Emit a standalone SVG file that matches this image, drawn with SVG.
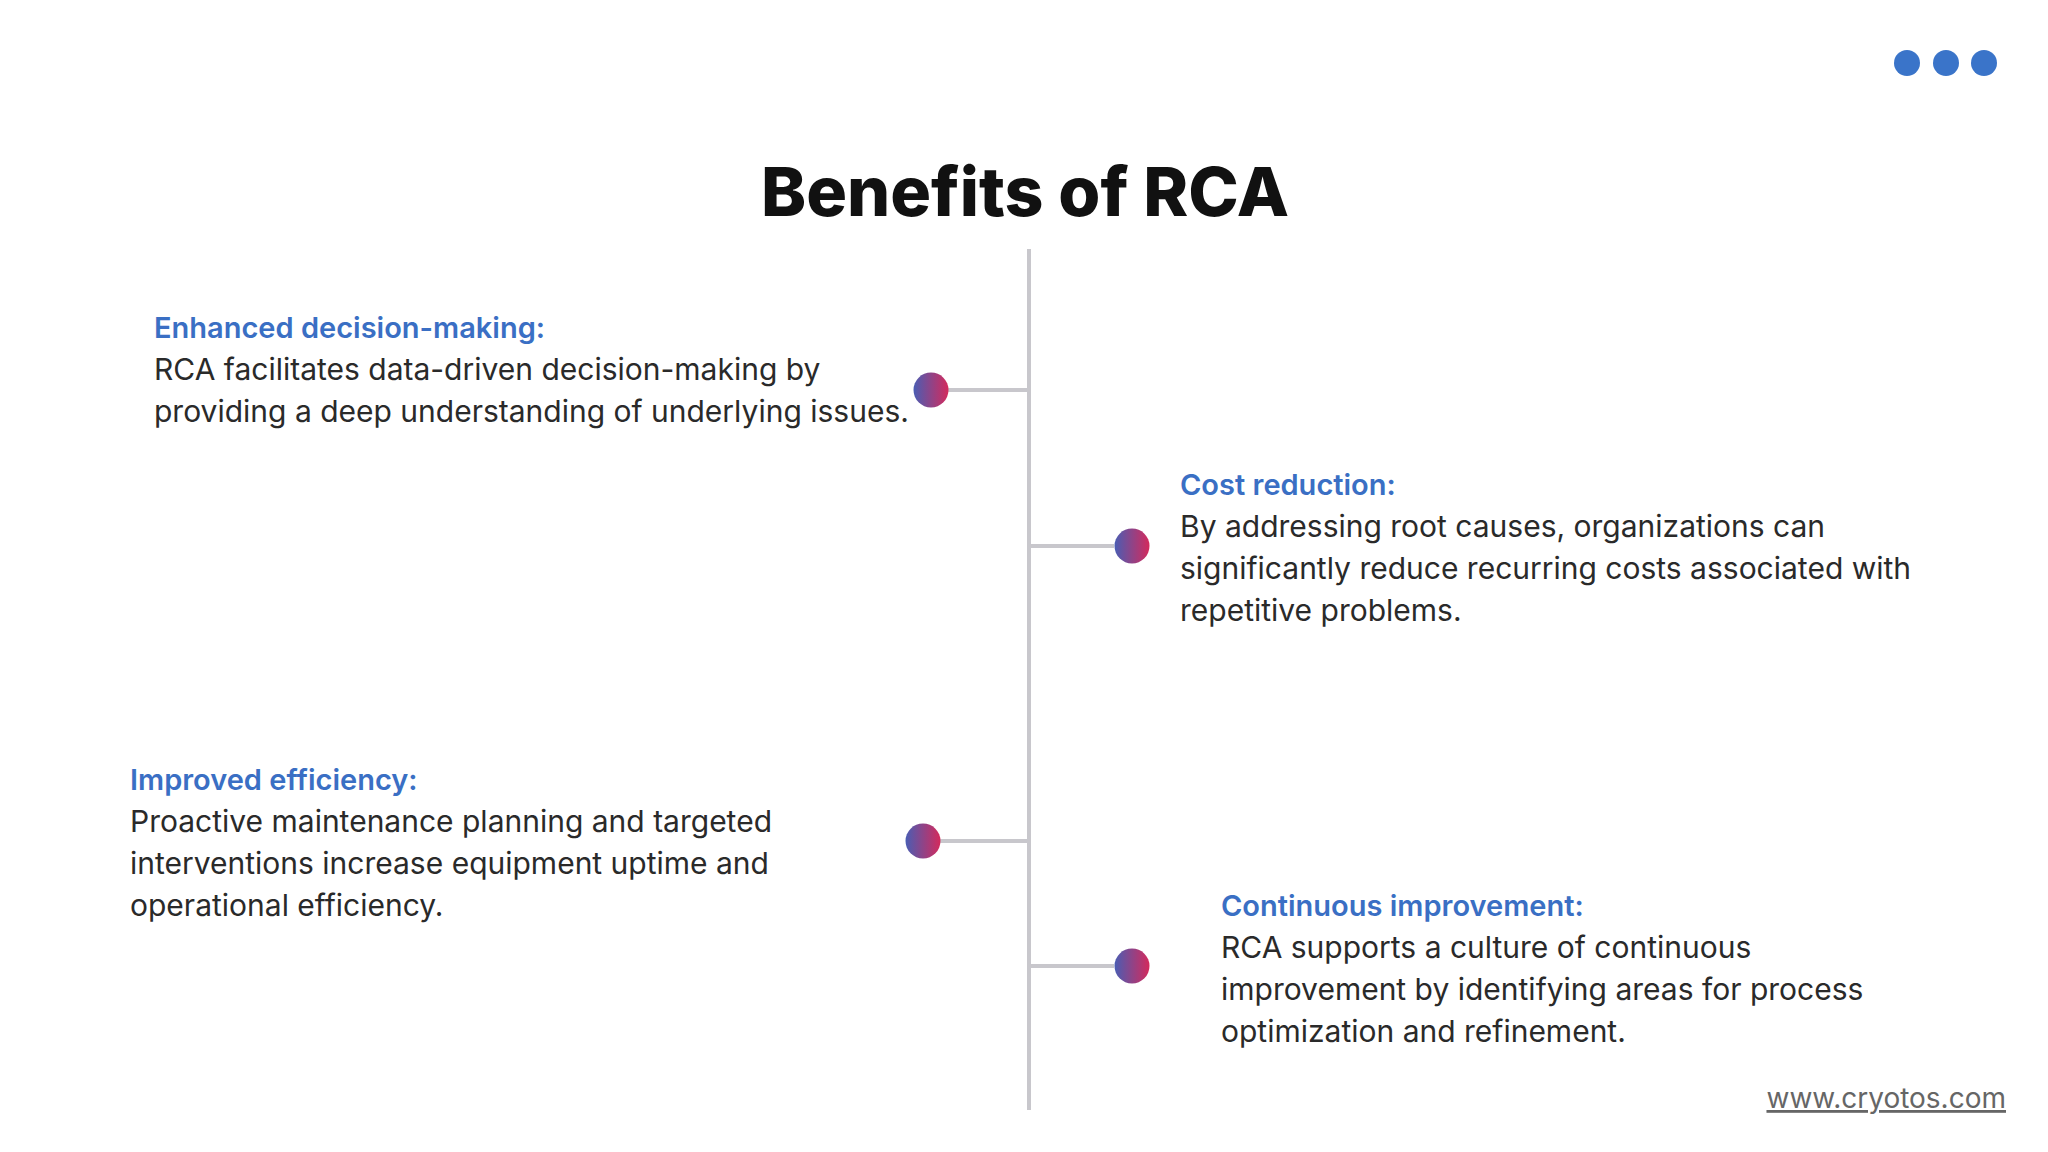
<svg xmlns="http://www.w3.org/2000/svg" width="2048" height="1152" viewBox="0 0 2048 1152">
<style>
.h{font-family:Inter,"Noto Sans",sans-serif;font-weight:600;font-size:29px;fill:#3a6fc4}
.b{font-family:Inter,"Noto Sans",sans-serif;font-size:30px;fill:#2a2a2a}
.c{stroke:#c8c7cc;stroke-width:4;fill:none}
</style>
<defs><linearGradient id="g" x1="0" x2="1" y1="0" y2="0"><stop offset="0" stop-color="#4a5db3"/><stop offset="1" stop-color="#d42a5c"/></linearGradient></defs>
<rect width="2048" height="1152" fill="#fff"/>
<g id="menu" fill="#3a74c9"><circle cx="1907" cy="63" r="13"/><circle cx="1946" cy="63" r="13"/><circle cx="1984" cy="63" r="13"/></g>
<text x="1025" y="216" text-anchor="middle" font-family="Inter,'Noto Sans',sans-serif" font-weight="800" font-size="68" fill="#111">Benefits of RCA</text>
<g id="connectors" class="c">
<line x1="1029" y1="249" x2="1029" y2="1110"/>
<line x1="944" y1="390" x2="1029" y2="390"/>
<line x1="1029" y1="546" x2="1114" y2="546"/>
<line x1="936" y1="841" x2="1029" y2="841"/>
<line x1="1029" y1="966" x2="1114" y2="966"/>
</g>
<g id="n1"><circle cx="931" cy="390" r="17.5" fill="url(#g)"/>
<text class="h" x="154" y="338">Enhanced decision-making:</text>
<text class="b" x="154" y="380">RCA facilitates data-driven decision-making by</text>
<text class="b" x="154" y="422">providing a deep understanding of underlying issues.</text></g>
<g id="n2"><circle cx="1132" cy="546" r="17.5" fill="url(#g)"/>
<text class="h" x="1180" y="495">Cost reduction:</text>
<text class="b" x="1180" y="537">By addressing root causes, organizations can</text>
<text class="b" x="1180" y="579">significantly reduce recurring costs associated with</text>
<text class="b" x="1180" y="621">repetitive problems.</text></g>
<g id="n3"><circle cx="923" cy="841" r="17.5" fill="url(#g)"/>
<text class="h" x="130" y="790">Improved efficiency:</text>
<text class="b" x="130" y="832">Proactive maintenance planning and targeted</text>
<text class="b" x="130" y="874">interventions increase equipment uptime and</text>
<text class="b" x="130" y="916">operational efficiency.</text></g>
<g id="n4"><circle cx="1132" cy="966" r="17.5" fill="url(#g)"/>
<text class="h" x="1221" y="916">Continuous improvement:</text>
<text class="b" x="1221" y="958">RCA supports a culture of continuous</text>
<text class="b" x="1221" y="1000">improvement by identifying areas for process</text>
<text class="b" x="1221" y="1042">optimization and refinement.</text></g>
<text x="2006" y="1108" text-anchor="end" font-family="Inter,'Noto Sans',sans-serif" font-size="28" fill="#666" text-decoration="underline">www.cryotos.com</text>
</svg>
